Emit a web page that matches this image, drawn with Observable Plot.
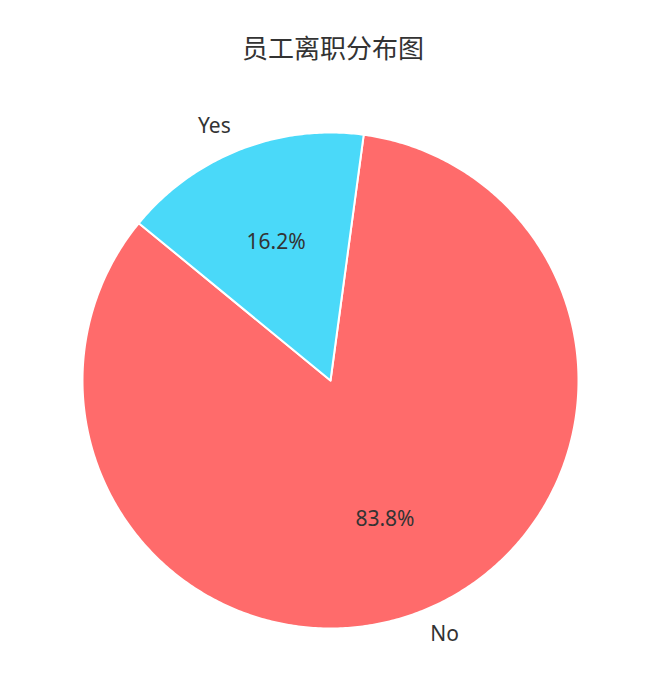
<!DOCTYPE html>
<html>
<head>
<meta charset="utf-8">
<script src="https://cdn.jsdelivr.net/npm/d3@7"></script>
<script src="https://cdn.jsdelivr.net/npm/@observablehq/plot@0.6"></script>
<style>
  html, body { margin: 0; padding: 0; background: #fff; }
  #title { height: 80px; line-height: 94px; text-align: center; font-family: "Noto Sans CJK SC", sans-serif; font-size: 26px; color: #333; padding-left: 0px; }
  #chart { font-family: "Noto Sans", "Open Sans", sans-serif; }
</style>
</head>
<body>
<div id="title">员工离职分布图</div>
<div id="chart"></div>
<script>
const categories = ["No", "Yes"];
const values = [83.8, 16.2];
const colors = ["#FF6B6B", "#4AD9F9"];
const pctLabels = ["83.8%", "16.2%"];

const R = 248;           // pixel radius
const W = 666, H = 600;
const cx = 330, cy = 300;
const startDeg = 7.7;

const pie = d3.pie().sort(null).value(d => d.value)
  .startAngle(startDeg * Math.PI / 180)
  .endAngle(startDeg * Math.PI / 180 + 2 * Math.PI);

const table = categories.map((c, i) => ({cat: c, value: values[i], color: colors[i], pct: pctLabels[i]}));
const arcs = pie(table);

// polygon points for each slice (unit radius, y up)
const poly = [];
arcs.forEach(a => {
  poly.push({cat: a.data.cat, x: 0, y: 0});
  const n = Math.max(4, Math.ceil((a.endAngle - a.startAngle) / 0.01));
  for (let k = 0; k <= n; k++) {
    const t = a.startAngle + (a.endAngle - a.startAngle) * k / n;
    poly.push({cat: a.data.cat, x: Math.sin(t), y: Math.cos(t)});
  }
});

const labelPts = arcs.map(a => {
  const m = (a.startAngle + a.endAngle) / 2;
  return {cat: a.data.cat, pct: a.data.pct,
    lx: 1.1 * Math.sin(m), ly: 1.1 * Math.cos(m),
    px: 0.6 * Math.sin(m), py: 0.6 * Math.cos(m),
    anchor: Math.sin(m) < 0 ? "end" : "start"};
});

const chart = Plot.plot({
  width: W, height: H,
  margin: 0,
  x: {domain: [-cx / R, (W - cx) / R], axis: null},
  y: {domain: [-(H - cy) / R, cy / R], axis: null},
  color: {domain: categories, range: colors},
  marks: [
    Plot.line(poly, {x: "x", y: "y", z: "cat", fill: "cat", stroke: "white", strokeWidth: 2, curve: "linear-closed"}),
    Plot.text(labelPts.filter(d => d.anchor === "end"), {x: "lx", y: "ly", text: "cat", textAnchor: "end", fontSize: 21, fill: "#333"}),
    Plot.text(labelPts.filter(d => d.anchor === "start"), {x: "lx", y: "ly", text: "cat", textAnchor: "start", fontSize: 21, fill: "#333"}),
    Plot.text(labelPts, {x: "px", y: "py", text: "pct", fontSize: 21, fill: "#333"})
  ]
});
document.getElementById("chart").appendChild(chart);
</script>
</body>
</html>
